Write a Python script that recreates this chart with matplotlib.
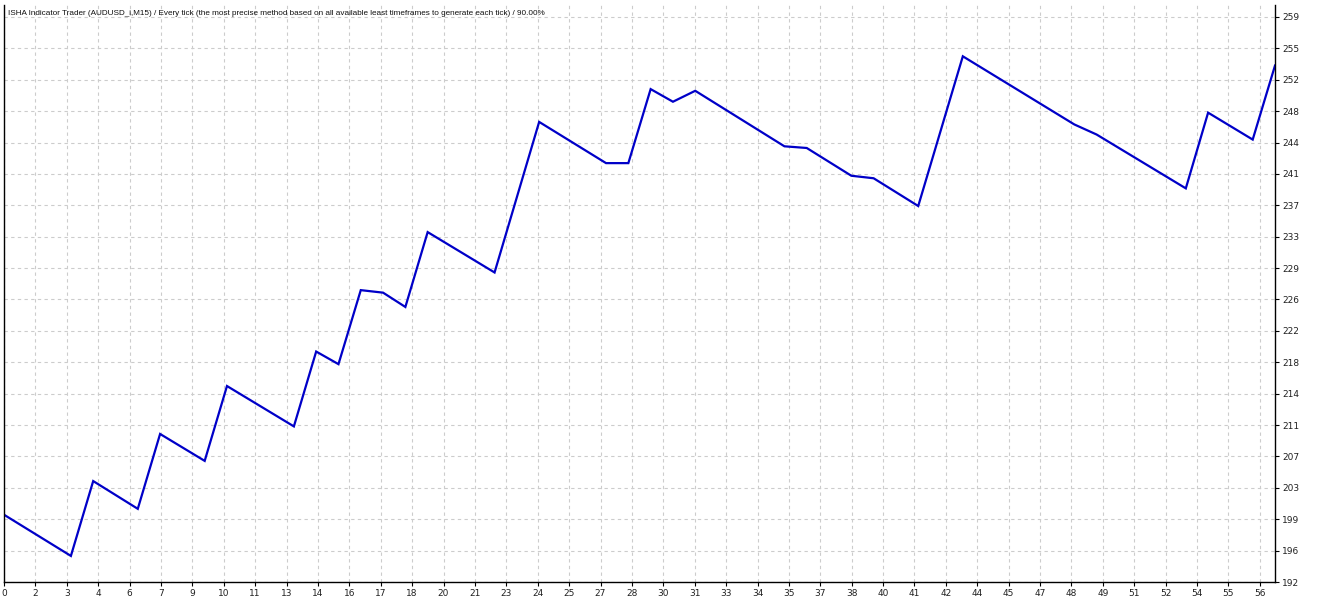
import matplotlib
matplotlib.use("Agg")
import matplotlib.pyplot as plt
import numpy as np

# balance after each trade (turning points only, straight runs in between)
trades = [0, 3, 4, 6, 7, 9, 10, 13, 14, 15, 16, 17, 18, 19, 22, 24, 27, 28, 29,
          30, 31, 35, 36, 38, 39, 41, 43, 48, 49, 53, 54, 56, 57]
balance = [200.0, 195.1, 204.0, 200.7, 209.6, 206.4, 215.3, 210.5, 219.4, 217.9,
           226.7, 226.4, 224.7, 233.6, 228.8, 246.7, 241.8, 241.8, 250.6, 249.1,
           250.4, 243.8, 243.6, 240.3, 240.0, 236.7, 254.5, 246.4, 245.2, 238.8,
           247.8, 244.6, 253.4]

x_labels = ['0', '2', '3', '4', '6', '7', '9', '10', '11', '13', '14', '16', '17',
            '18', '20', '21', '23', '24', '25', '27', '28', '30', '31', '33', '34',
            '35', '37', '38', '40', '41', '42', '44', '45', '47', '48', '49', '51',
            '52', '54', '55', '56']
y_labels = ['192', '196', '199', '203', '207', '211', '214', '218', '222', '226',
            '229', '233', '237', '241', '244', '248', '252', '255', '259']

title = ("ISHA Indicator Trader (AUDUSD_i,M15) / Every tick (the most precise method "
         "based on all available least timeframes to generate each tick) / 90.00%")

x_step = 1.408
y_step = 3.732

fig = plt.figure(figsize=(13.2, 5.99), dpi=100)
ax = fig.add_axes([4 / 1320, 17 / 599, 1271 / 1320, 577 / 599])

xt = np.arange(len(x_labels)) * x_step
yt = 192 + np.arange(len(y_labels)) * y_step

ax.plot(trades, balance, color='#0000c8', linewidth=1.6, solid_joinstyle='miter')

ax.set_xlim(0, 57)
ax.set_ylim(192, 260.6)
ax.set_xticks(xt)
ax.set_xticklabels(x_labels)
ax.set_yticks(yt)
ax.set_yticklabels(y_labels)
ax.yaxis.tick_right()

ax.grid(True, color='#cccccc', linestyle=(0, (3, 3)), linewidth=0.8)
ax.tick_params(axis='both', labelsize=6.5, length=3, width=0.8, colors='#000000',
               labelcolor='#202020', pad=2)

ax.spines['top'].set_visible(False)
for s in ['left', 'right', 'bottom']:
    ax.spines[s].set_linewidth(1.0)
    ax.spines[s].set_color('#000000')

ax.text(0.003, 0.986, title, transform=ax.transAxes, fontsize=5.9,
        color='#101010', va='center', ha='left', family='Liberation Sans')

fig.savefig('out.png', dpi=100)
